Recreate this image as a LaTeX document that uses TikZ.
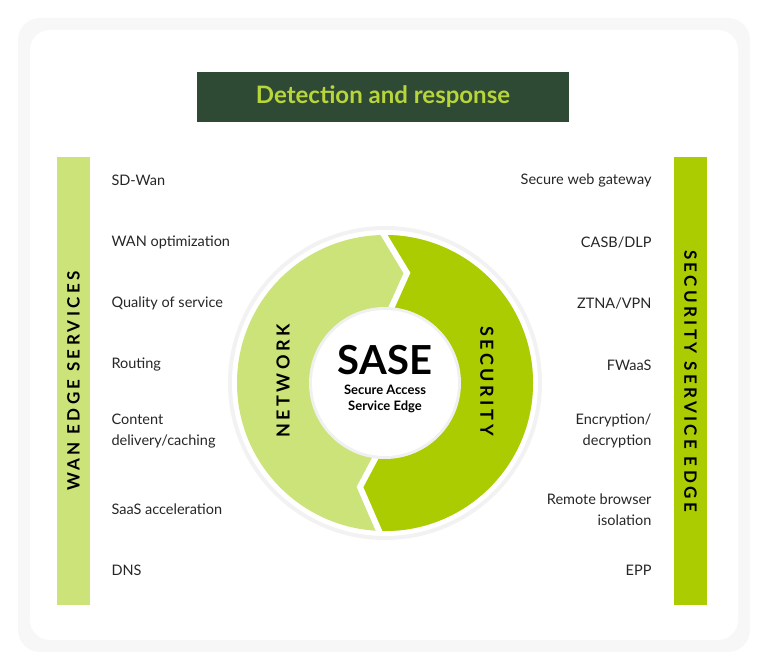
\documentclass[tikz,border=0pt]{standalone}
\usepackage{fontspec}
\usetikzlibrary{positioning}
\setmainfont{Lato}
\newfontfamily\spacedfont[LetterSpace=20]{Lato}
\definecolor{netgreen}{HTML}{CCE37A}
\definecolor{secgreen}{HTML}{AACC00}
\definecolor{titlebg}{HTML}{2E4A35}
\definecolor{titlefg}{HTML}{B8D63A}
\tikzset{
  item/.style={font=\fontsize{14.5}{21}\selectfont, align=left, text=black!85},
  ritem/.style={item, align=right, anchor=east},
  litem/.style={item, anchor=west},
  bar/.style={inner sep=0pt, minimum width=33pt, minimum height=448pt},
  bartext/.style={font=\spacedfont\bfseries\fontsize{17}{17}\selectfont},
  arctext/.style={font=\spacedfont\bfseries\fontsize{18}{18}\selectfont}
}
\begin{document}
\begin{tikzpicture}[x=1pt,y=-1pt]
  \useasboundingbox (0,0) rectangle (768,669);
  % card
  \fill[black!3, rounded corners=22pt] (18,18) rectangle (750,652);
  \fill[white, rounded corners=20pt] (30,30) rectangle (738,640);
  % title
  \node[fill=titlebg, minimum width=372pt, minimum height=50pt, text=titlefg,
        font=\bfseries\fontsize{24}{24}\selectfont] (title) at (383,97) {Detection and response};
  % side bars
  \node[bar, fill=netgreen] (wan) at (73.5,381) {};
  \node[bar, fill=secgreen] (sse) at (690.5,381) {};
  \node[bartext, rotate=90] at (wan) {WAN EDGE SERVICES};
  \node[bartext, rotate=-90] at (sse) {SECURITY SERVICE EDGE};
  % left items
  \node[litem] (l1) at (108,180) {SD-Wan};
  \node[litem] (l2) at (108,242) {WAN optimization};
  \node[litem] (l3) at (108,303) {Quality of service};
  \node[litem] (l4) at (108,365) {Routing};
  \node[litem] (l5) at (108,431) {Content\\delivery/caching};
  \node[litem] (l6) at (108,509) {SaaS acceleration};
  \node[litem] (l7) at (108,570) {DNS};
  % right items
  \node[ritem] (r1) at (655,180) {Secure web gateway};
  \node[ritem] (r2) at (655,242) {CASB/DLP};
  \node[ritem] (r3) at (655,303) {ZTNA/VPN};
  \node[ritem] (r4) at (655,365) {FWaaS};
  \node[ritem] (r5) at (655,431) {Encryption/\\decryption};
  \node[ritem] (r6) at (655,510) {Remote browser\\isolation};
  \node[ritem] (r7) at (655,570) {EPP};
  % wheel
  \coordinate (c) at (385,383);
  \fill[black!5] (c) circle (157);
  \fill[white] (c) circle (153);
  \fill[netgreen] (c) circle (148);
  \begin{scope}
    \clip (c) circle (148);
    \fill[secgreen] (378,225) -- (407,273) -- (385,322) -- (385,440) -- (360,487)
      -- (383,540) -- (560,540) -- (560,225) -- cycle;
    \draw[white, line width=6pt] (378,225) -- (407,273) -- (385,322)
      (385,440) -- (360,487) -- (383,540);
  \end{scope}
  \fill[black!6] (c) circle (76);
  \fill[white] (c) circle (73);
  \node[arctext, rotate=90] (net) at (283,381) {NETWORK};
  \node[arctext, rotate=-90] (sec) at (487,381) {SECURITY};
  \node[font=\bfseries\fontsize{40}{40}\selectfont, inner sep=0pt] (sase) at (385,360) {SASE};
  \node[font=\bfseries\fontsize{13}{16}\selectfont, align=center, inner sep=0pt, below=10pt of sase] (sub) {Secure Access\\Service Edge};
\end{tikzpicture}
\end{document}
